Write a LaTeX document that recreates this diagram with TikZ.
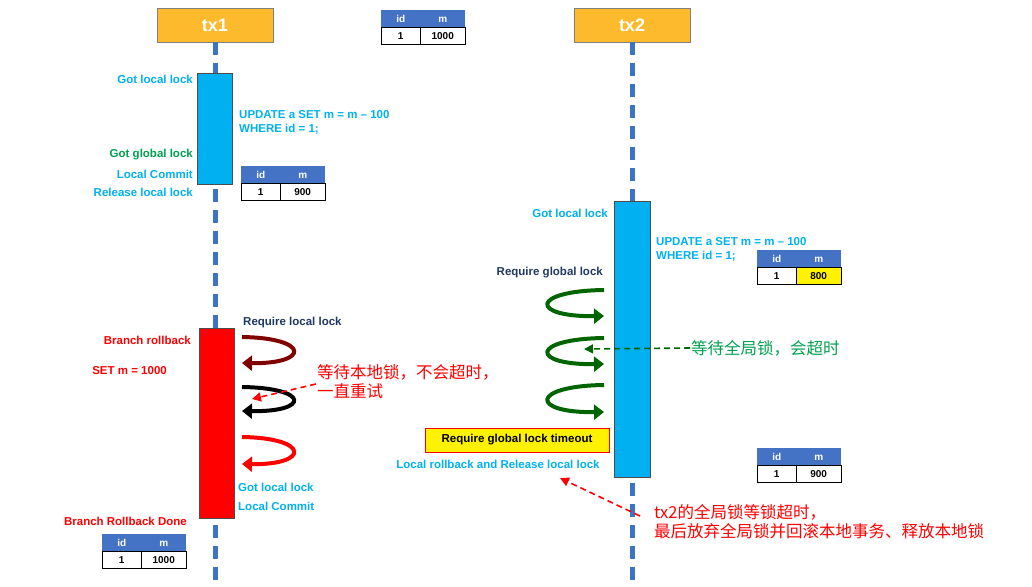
\documentclass[tikz,border=0pt]{standalone}
\usepackage{fontspec}
\setmainfont{Liberation Sans}
\newfontfamily\cjk{Noto Sans CJK SC}
\usetikzlibrary{arrows.meta}
\definecolor{org}{HTML}{FDBA2C}
\definecolor{lif}{HTML}{3C74C4}
\definecolor{cyn}{HTML}{00B0F0}
\definecolor{grn}{HTML}{00A050}
\definecolor{nav}{HTML}{1F3864}
\definecolor{hdr}{HTML}{4472C4}
\definecolor{dgr}{HTML}{006400}
\tikzset{
 lbl/.style={font=\bfseries\fontsize{11.5}{14}\selectfont,inner sep=1pt},
 head/.style={draw=gray,fill=org,text=white,font=\bfseries\fontsize{18}{20}\selectfont,minimum width=116pt,minimum height=34pt},
 life/.style={lif,line width=5pt,dash pattern=on 13pt off 8pt},
 act/.style={draw=black!70,line width=0.8pt},
 hc/.style={fill=hdr,text=white,font=\bfseries\fontsize{10}{12}\selectfont,minimum height=17pt,inner sep=0pt,text height=7.5pt,text depth=0pt},
 dc/.style={draw=black,fill=white,minimum height=17pt,inner sep=0pt},
 dt/.style={font=\bfseries\fontsize{10}{12}\selectfont,inner sep=0pt,text height=7.5pt,text depth=0pt},
 curl/.style={line width=4pt,-{Triangle[length=10pt,width=15pt]}},
 cn/.style={font=\cjk\fontsize{16.5}{19}\selectfont,inner sep=1pt,anchor=west},
 darr/.style={line width=1.6pt,dash pattern=on 6pt off 4pt,-{Triangle[length=9pt,width=9pt]}}
}
\newcommand{\tbl}[4]{%
 \node[hc,minimum width=39pt,anchor=north west] (#1h1) at (#2,#3) {id};
 \node[hc,minimum width=45pt,anchor=north west] (#1h2) at (#2+39,#3) {m};
 \node[dc,minimum width=39pt,anchor=north west] (#1d1) at (#2,#3+17) {};
 \node[dc,minimum width=45pt,anchor=north west,#4] (#1d2) at (#2+39,#3+17) {};
 \node[dt] (#1t1) at (#1d1.center) {1};
}
\begin{document}
\begin{tikzpicture}[x=1pt,y=-1pt]
\useasboundingbox (0,0) rectangle (1032,586);
\node[head] (t1) at (215,25) {tx1};
\node[head] (t2) at (632,25) {tx2};
\coordinate (e1) at (215,580); \coordinate (e2) at (632,580);
\draw[life] (t1.south) -- (e1);
\draw[life] (t2.south) -- (e2);
\node[act,fill=cyn,minimum width=35pt,minimum height=111pt] (a1) at (214.5,128.5) {};
\node[act,fill=red,minimum width=35pt,minimum height=190pt] (r1) at (216.5,423) {};
\node[act,fill=cyn,minimum width=36pt,minimum height=276pt] (a2) at (632,339) {};
% tables
\tbl{A}{381}{10}{} \node[dt] (Am) at (Ad2.center) {1000};
\tbl{B}{241}{166}{} \node[dt] (Bm) at (Bd2.center) {900};
\tbl{C}{757}{250}{fill=yellow} \node[dt] (Cm) at (Cd2.center) {800};
\tbl{D}{757}{448}{} \node[dt] (Dm) at (Dd2.center) {900};
\tbl{E}{102}{534}{} \node[dt] (Em) at (Ed2.center) {1000};
% tx1 labels
\node[lbl,cyn,anchor=east] (l1) at (194,79) {Got local lock};
\node[lbl,cyn,anchor=west,align=left] (l2) at (238,122) {UPDATE a SET m = m -- 100\\WHERE id = 1;};
\node[lbl,grn,anchor=east] (l3) at (194,155) {Got global lock};
\node[lbl,cyn,anchor=east] (l4) at (194,174) {Local Commit};
\node[lbl,cyn,anchor=east] (l5) at (194,192) {Release local lock};
\node[lbl,nav,anchor=west] (l6) at (242,323) {Require local lock};
\node[lbl,red,anchor=east] (l7) at (192,340) {Branch rollback};
\node[lbl,red,anchor=east] (l8) at (168,371) {SET m = 1000};
\node[lbl,cyn,anchor=west] (l9) at (237,487) {Got local lock};
\node[lbl,cyn,anchor=west] (l10) at (237,506) {Local Commit};
\node[lbl,red,anchor=east] (l11) at (188,521) {Branch Rollback Done};
% tx2 labels
\node[lbl,cyn,anchor=east] (m1) at (609,213) {Got local lock};
\node[lbl,cyn,anchor=west,align=left] (m2) at (655,249) {UPDATE a SET m = m -- 100\\WHERE id = 1;};
\node[lbl,nav,anchor=east] (m3) at (604,273) {Require global lock};
\node[lbl,draw=red,line width=0.8pt,fill=yellow,text=black,minimum width=184pt,minimum height=24pt] (m4) at (517,440) {Require global lock timeout};
\node[lbl,cyn] (m5) at (498,464) {Local rollback and Release local lock};
% left curls
\coordinate (c1s) at (242,337); \coordinate (c1e) at (242,363);
\coordinate (c2s) at (242,387); \coordinate (c2e) at (242,411);
\coordinate (c3s) at (242,437); \coordinate (c3e) at (242,464);
\draw[curl,red!50!black] (c1s) .. controls (310,338) and (310,364) .. (c1e);
\draw[curl,black] (c2s) .. controls (310,388) and (310,412) .. (c2e);
\draw[curl,red] (c3s) .. controls (310,438) and (310,465) .. (c3e);
% right curls
\coordinate (g1s) at (604,290); \coordinate (g1e) at (604,316);
\coordinate (g2s) at (604,338); \coordinate (g2e) at (604,364);
\coordinate (g3s) at (604,385); \coordinate (g3e) at (604,412);
\draw[curl,dgr] (g1s) .. controls (530,291) and (530,317) .. (g1e);
\draw[curl,dgr] (g2s) .. controls (530,339) and (530,365) .. (g2e);
\draw[curl,dgr] (g3s) .. controls (530,386) and (530,413) .. (g3e);
% notes
\node[cn,red,align=left] (n1) at (316,382) {等待本地锁，不会超时，\\一直重试};
\coordinate (n1t) at (252,399);
\coordinate (n1s) at (316,384);
\draw[red,darr] (n1s) -- (n1t);
\node[cn,grn] (n2) at (690,348) {等待全局锁，会超时};
\coordinate (n2t) at (584,349);
\draw[dgr,darr] (n2.west) -- (n2t);
\node[cn,red,align=left] (n3) at (653,522) {tx2的全局锁等锁超时，\\最后放弃全局锁并回滚本地事务、释放本地锁};
\coordinate (n3t) at (560,478); \coordinate (n3s) at (640,516);
\draw[red,darr] (n3s) -- (n3t);
\end{tikzpicture}
\end{document}
